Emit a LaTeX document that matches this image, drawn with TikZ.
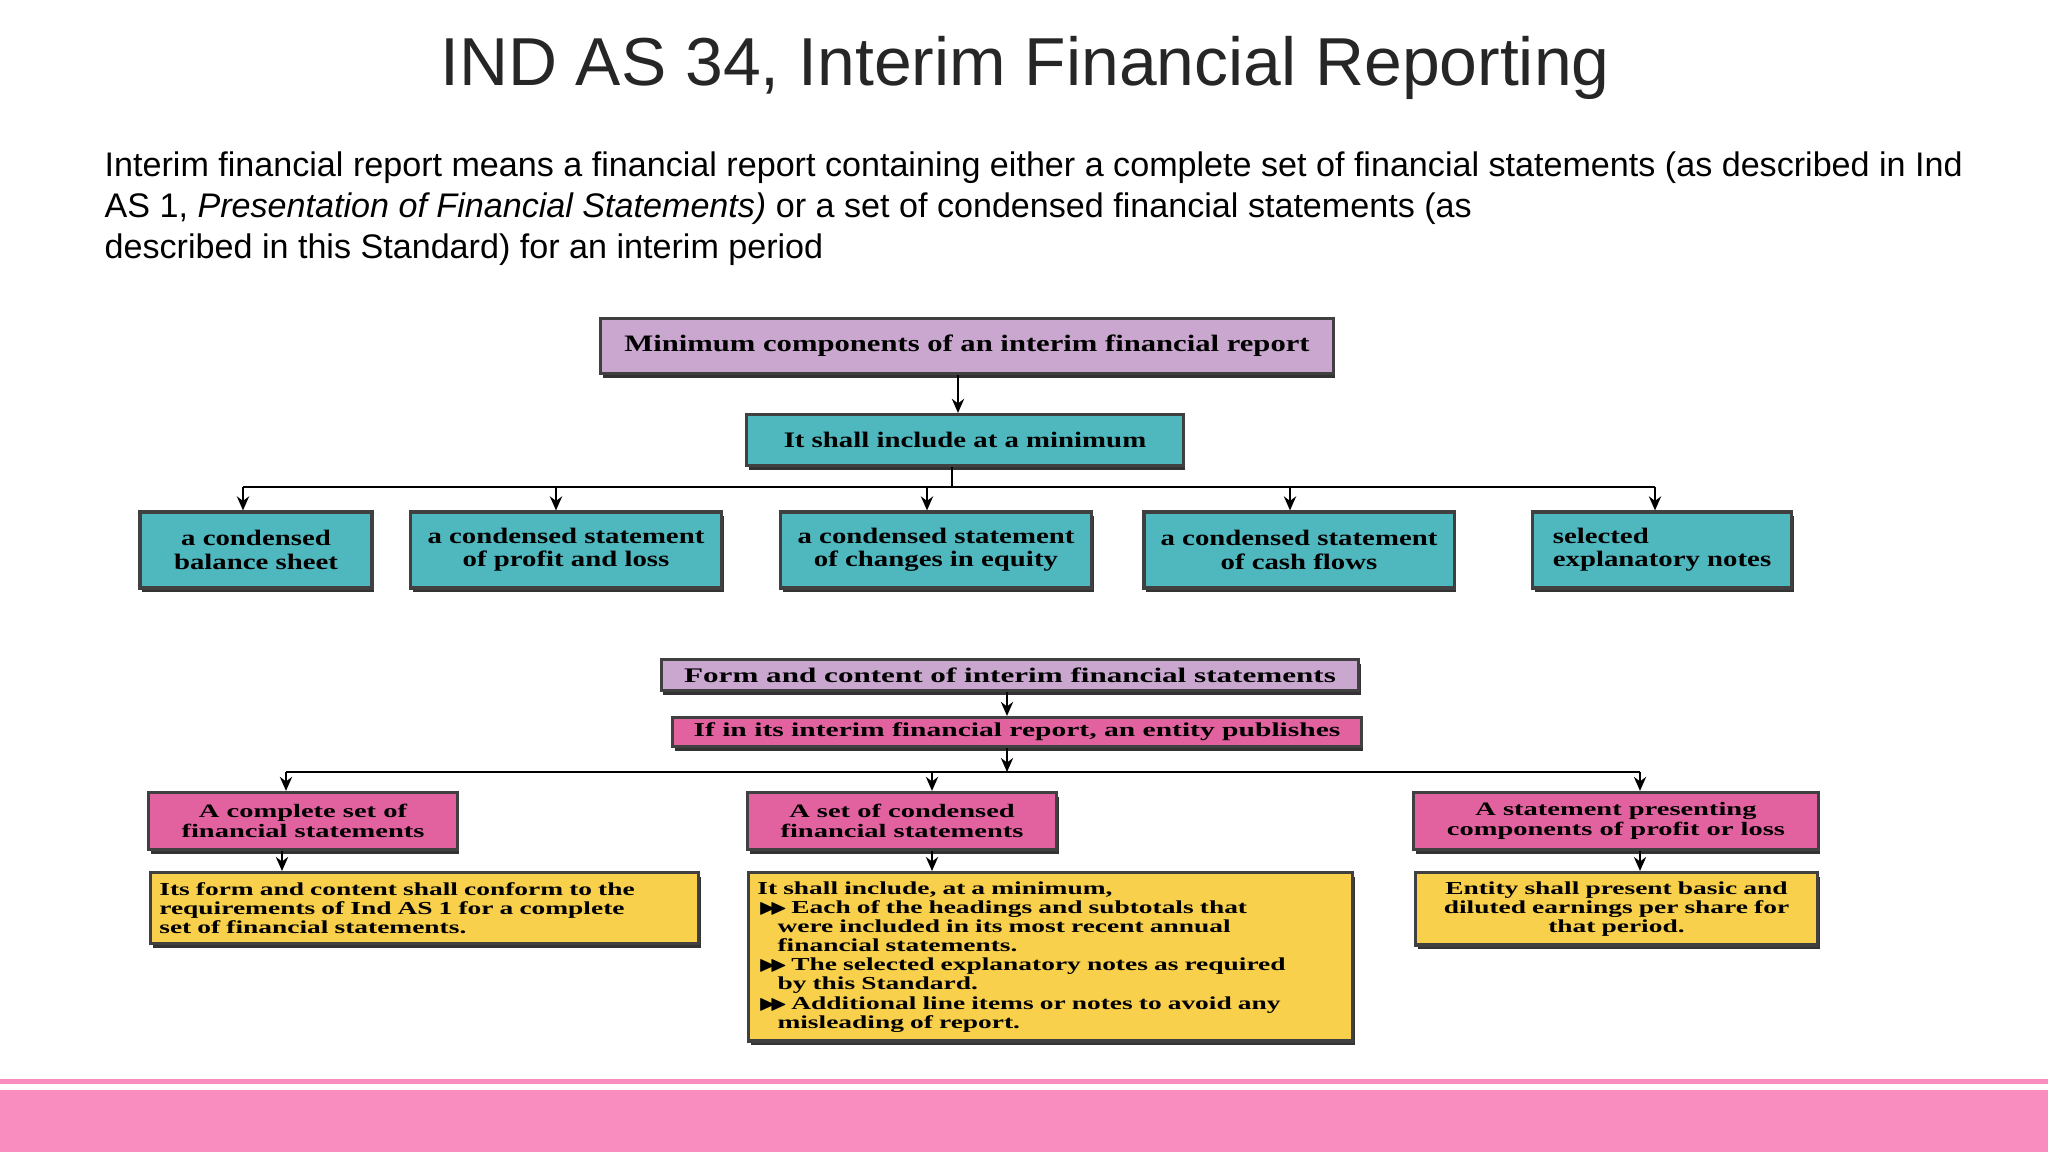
\documentclass[tikz,border=0pt]{standalone}
\usepackage{fontspec}
\usepackage{amssymb}
\setmainfont{Liberation Sans}
\newfontfamily\boxfont[FakeStretch=1.3]{Liberation Serif}
\newfontfamily\wboxfont[FakeStretch=1.5]{Liberation Serif}
\usetikzlibrary{calc,arrows.meta}
\definecolor{lil}{HTML}{C9A7CF}
\definecolor{teal2}{HTML}{4FB8BF}
\definecolor{pnk}{HTML}{E2629F}
\definecolor{yel}{HTML}{F9D04C}
\definecolor{band}{HTML}{F98DC0}
\newcommand{\bl}{$\blacktriangleright\!\!\blacktriangleright$\,}
\tikzset{
 bx/.style={draw=black!75,line width=0.9pt,inner sep=1pt,align=center,
   font=\boxfont\bfseries\fontsize{6.3}{6.6}\selectfont,
   preaction={fill=black!80,transform canvas={shift={(0.6pt,-1.2pt)}}}},
 lilbox/.style={bx,fill=lil},
 tealbox/.style={bx,fill=teal2},
 pinkbox/.style={bx,fill=pnk,font=\wboxfont\bfseries\fontsize{5.4}{5.7}\selectfont},
 yelbox/.style={bx,fill=yel,align=left,anchor=north west,text width=#1,inner sep=2.5pt,
   font=\wboxfont\bfseries\fontsize{5.2}{5.45}\selectfont},
 arr/.style={-{Stealth[length=4pt,width=3.5pt]},line width=0.5pt},
 ln/.style={line width=0.5pt}
}
\begin{document}
\begin{tikzpicture}[x=0.01cm,y=-0.01cm]
\useasboundingbox (0,0) rectangle (2048,1152);
\fill[band] (0,1090) rectangle (2048,1152);
\fill[band] (0,1079) rectangle (2048,1084);
\node[font=\fontsize{19.3}{23}\selectfont,text=black!85] (title) at (1025,68) {IND AS 34, Interim Financial Reporting};
\node[anchor=north west,align=left,font=\fontsize{9.7}{11.6}\selectfont,inner sep=0pt] (para) at (104,151)
 {Interim financial report means a financial report containing either a complete set of financial statements (as described in Ind\\
 AS 1, \textit{Presentation of Financial Statements)} or a set of condensed financial statements (as\\
 described in this Standard) for an interim period};

\node[lilbox,minimum width=7.32cm,minimum height=0.55cm,font=\boxfont\bfseries\fontsize{6.7}{6.7}\selectfont] (top) at (967,346) {Minimum components of an interim financial report};
\node[tealbox,minimum width=4.36cm,minimum height=0.51cm] (inc) at (965,440) {It shall include at a minimum};
\node[tealbox,minimum width=2.32cm,minimum height=0.76cm] (b1) at (256,550) {a condensed\\balance sheet};
\node[tealbox,minimum width=3.11cm,minimum height=0.76cm] (b2) at (566,550) {a condensed statement\\of profit and loss};
\node[tealbox,minimum width=3.11cm,minimum height=0.76cm] (b3) at (936,550) {a condensed statement\\of changes in equity};
\node[tealbox,minimum width=3.10cm,minimum height=0.76cm] (b4) at (1299,550) {a condensed statement\\of cash flows};
\node[tealbox,minimum width=2.59cm,minimum height=0.76cm,align=left] (b5) at (1662,550) {selected\\explanatory notes};

\draw[arr] (top.south -| 958,0) -- (inc.north -| 958,0);
\coordinate (hj) at (952,487);
\draw[ln] (inc.south -| hj) -- (hj);
\draw[ln] (243,487) -- (1655,487);
\foreach \n/\x in {b1/243,b2/556,b3/927,b4/1290,b5/1655}
  \draw[arr] (\x,487) -- (\n.north -| \x,0);

\node[lilbox,minimum width=6.97cm,minimum height=0.31cm,font=\wboxfont\bfseries\fontsize{5.9}{5.9}\selectfont] (form) at (1010,675) {Form and content of interim financial statements};
\node[pinkbox,minimum width=6.88cm,minimum height=0.29cm,font=\wboxfont\bfseries\fontsize{5.6}{5.6}\selectfont] (if) at (1017,732) {If in its interim financial report, an entity publishes};
\draw[arr] (form.south -| 1007,0) -- (if.north -| 1007,0);
\draw[arr] (if.south -| 1007,0) -- (1007,772);
\draw[ln] (286,772) -- (1640,772);
\node[pinkbox,minimum width=3.08cm,minimum height=0.57cm] (p1) at (303,821) {A complete set of\\financial statements};
\node[pinkbox,minimum width=3.09cm,minimum height=0.57cm] (p2) at (902,821) {A set of condensed\\financial statements};
\node[pinkbox,minimum width=4.04cm,minimum height=0.57cm] (p3) at (1616,821) {A statement presenting\\components of profit or loss};
\foreach \n/\x in {p1/286,p2/932,p3/1640}
  \draw[arr] (\x,772) -- (\n.north -| \x,0);

\node[yelbox=5.3cm,minimum height=0.71cm] (y1) at (149,871) {Its form and content shall conform to the\\requirements of Ind AS 1 for a complete\\set of financial statements.};
\node[yelbox=5.86cm,minimum height=1.58cm] (y2) at (747,871) {It shall include, at a minimum,\\
\bl Each of the headings and subtotals that\\
\hspace*{2.4ex}were included in its most recent annual\\
\hspace*{2.4ex}financial statements.\\
\bl The selected explanatory notes as required\\
\hspace*{2.4ex}by this Standard.\\
\bl Additional line items or notes to avoid any\\
\hspace*{2.4ex}misleading of report.};
\node[yelbox=3.84cm,minimum height=0.71cm,align=center] (y3) at (1414,871) {Entity shall present basic and\\diluted earnings per share for\\that period.};
\draw[arr] (p1.south -| 282,0) -- (y1.north -| 282,0);
\draw[arr] (p2.south -| 932,0) -- (y2.north -| 932,0);
\draw[arr] (p3.south -| 1640,0) -- (y3.north -| 1640,0);
\end{tikzpicture}
\end{document}
